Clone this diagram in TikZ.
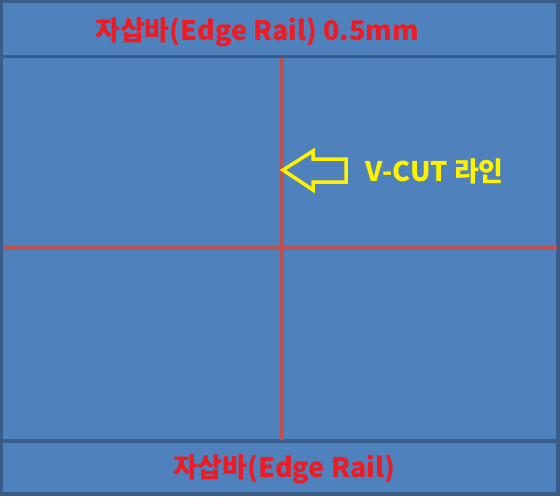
\documentclass[tikz,border=0pt]{standalone}
\usepackage{fontspec}
\setmainfont{Noto Sans CJK KR}
\usepackage{tikz}

\begin{document}
\begin{tikzpicture}[
    x=1pt, y=-1pt,
    panel/.style={draw=railedge,fill=boardblue,line width=3.5pt},
    cut/.style={draw=cutred,line width=3.5pt},
    railtext/.style={text=railred,font=\bfseries\fontsize{27}{27}\selectfont},
    cuttext/.style={text=yellow,font=\bfseries\fontsize{27}{27}\selectfont}
    ]
    \definecolor{boardblue}{HTML}{4F81BD}
    \definecolor{railedge}{HTML}{385D8A}
    \definecolor{cutred}{HTML}{C0504D}
    \definecolor{railred}{HTML}{ED1C24}
    \useasboundingbox (0,0) rectangle (560,496);
    \draw[panel] (1.5,1.5) rectangle (558,56.5);
    \draw[panel] (1.5,56.5) rectangle (558,441);
    \draw[panel] (1.5,441) rectangle (558,494);
    \coordinate (vtop) at (282,58);
    \coordinate (vbot) at (282,439.5);
    \coordinate (hl) at (3,248);
    \coordinate (hr) at (556.5,248);
    \draw[cut] (vtop) -- (vbot);
    \draw[cut] (hl) -- (hr);
    \draw[yellow,line width=3.5pt,line join=miter]
      (283,170) -- (313,151) -- (313,159) -- (346,159)
      -- (346,182) -- (313,182) -- (313,190) -- cycle;
    \node[railtext] (toprail) at (257,32) {자삽바(Edge Rail) 0.5mm};
    \node[cuttext,anchor=west] (vcut) at (362,171) {V-CUT 라인};
    \node[railtext] (botrail) at (284,469) {자삽바(Edge Rail)};
  \end{tikzpicture}
\end{document}
